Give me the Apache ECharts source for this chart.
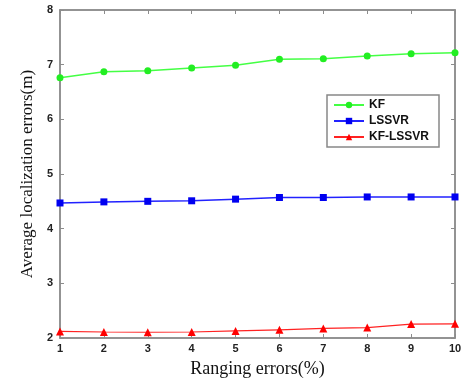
<!DOCTYPE html>
<html><head><meta charset="utf-8">
<script src="https://cdn.jsdelivr.net/npm/echarts@6/dist/echarts.min.js"></script>
<style>html,body{margin:0;padding:0;background:#fff}#c{width:474px;height:381px}</style>
</head><body><div id="c"></div>
<script>
var xValues = [1,2,3,4,5,6,7,8,9,10];
var kf = [6.76,6.87,6.89,6.94,6.99,7.10,7.11,7.16,7.20,7.22];
var lssvr = [4.47,4.49,4.50,4.51,4.54,4.57,4.57,4.58,4.58,4.58];
var kfLssvr = [2.12,2.11,2.105,2.11,2.13,2.15,2.175,2.19,2.255,2.26];
var seriesNames = ['KF','LSSVR','KF-LSSVR'];

function pairs(v){ return xValues.map(function(x,i){ return [x, v[i]]; }); }
var axisGray = '#8c8c8c';
var tickLbl = {color:'#222', fontFamily:'Liberation Sans, Arial', fontWeight:'bold', fontSize:11};
var chart = echarts.init(document.getElementById('c'), null, {renderer:'canvas'});
chart.setOption({
  animation:false,
  backgroundColor:'#fff',
  grid:{left:60, right:19, top:10, bottom:43, show:true, borderColor:axisGray, borderWidth:1.5,
        containLabel:false, outerBoundsMode:'none'},
  legend:{
    orient:'vertical', left:327, top:95, width:111,
    data:seriesNames,
    itemWidth:30, itemHeight:8, itemGap:4,
    padding:[4,10,4,6],
    borderColor:'#888', borderWidth:1.5, backgroundColor:'#fff',
    textStyle:{fontFamily:'Liberation Sans, Arial', fontWeight:'bold', fontSize:12, color:'#111'}
  },
  xAxis:[{
    type:'value', min:1, max:10, interval:1,
    axisLine:{show:true, lineStyle:{color:axisGray, width:1.5}},
    axisTick:{show:true, inside:true, length:4, lineStyle:{color:axisGray}},
    axisLabel:Object.assign({margin:5}, tickLbl),
    splitLine:{show:false},
    name:'Ranging errors(%)', nameLocation:'middle', nameGap:22,
    nameTextStyle:{fontFamily:'Liberation Serif, Times New Roman', fontSize:18, color:'#111'}
  },{
    type:'value', position:'top', min:1, max:10, interval:1,
    axisLine:{show:true, lineStyle:{color:axisGray, width:1.5}},
    axisTick:{show:true, inside:true, length:4, lineStyle:{color:axisGray}},
    axisLabel:{show:false}, splitLine:{show:false}
  }],
  yAxis:[{
    type:'value', min:2, max:8, interval:1,
    axisLine:{show:true, lineStyle:{color:axisGray, width:1.5}},
    axisTick:{show:true, inside:true, length:4, lineStyle:{color:axisGray}},
    axisLabel:Object.assign({margin:7}, tickLbl),
    splitLine:{show:false},
    name:'Average localization errors(m)', nameLocation:'middle', nameGap:24,
    nameTextStyle:{fontFamily:'Liberation Serif, Times New Roman', fontSize:17, color:'#111'}
  },{
    type:'value', position:'right', min:2, max:8, interval:1,
    axisLine:{show:true, lineStyle:{color:axisGray, width:1.5}},
    axisTick:{show:true, inside:true, length:4, lineStyle:{color:axisGray}},
    axisLabel:{show:false}, splitLine:{show:false}
  }],
  series:[
    {name:seriesNames[0], type:'line', data:pairs(kf), symbol:'circle', symbolSize:7,
     itemStyle:{color:'#22ee22'}, lineStyle:{color:'#44ff44', width:1.5}},
    {name:seriesNames[1], type:'line', data:pairs(lssvr), symbol:'rect', symbolSize:7,
     itemStyle:{color:'#0000f0'}, lineStyle:{color:'#2222ff', width:1.5}},
    {name:seriesNames[2], type:'line', data:pairs(kfLssvr), symbol:'triangle', symbolSize:8,
     itemStyle:{color:'#ff0000'}, lineStyle:{color:'#ff2222', width:1.2}}
  ]
});
</script></body></html>
